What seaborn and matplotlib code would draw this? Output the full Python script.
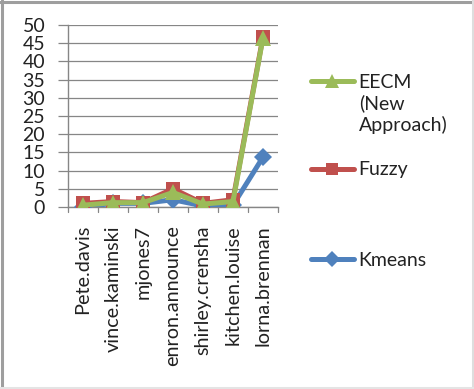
import matplotlib
matplotlib.use("Agg")
import matplotlib.pyplot as plt
import seaborn as sns
import pandas as pd
from matplotlib.lines import Line2D

categories = ["Pete.davis", "vince.kaminski", "mjones7", "enron.announce",
              "shirley.crensha", "kitchen.louise", "lorna.brennan"]
kmeans = [0.0, 1.0, 1.0, 2.0, 0.3, 0.5, 13.7]
fuzzy = [1.0, 1.5, 1.2, 5.0, 1.0, 2.0, 46.8]
eecm = [0.5, 1.2, 1.2, 4.0, 0.8, 1.5, 46.5]
y_ticks = [0, 5, 10, 15, 20, 25, 30, 35, 40, 45, 50]

sns.set_theme(style="white")
plt.rcParams["font.family"] = ["Lato", "DejaVu Sans"]

W, H = 474, 389
fig = plt.figure(figsize=(W / 100, H / 100), dpi=100)
ax = fig.add_axes([68 / W, 1 - 207 / H, 210 / W, 182 / H])

grey = "#868686"
txt = "#222222"
series = [
    ("Kmeans", kmeans, "#4F81BD", "D", 9),
    ("Fuzzy", fuzzy, "#C0504D", "s", 10),
    ("EECM", eecm, "#9BBB59", "^", 11),
]
handles = {}
for name, vals, col, mk, ms in series:
    df = pd.DataFrame({"cat": categories, "val": vals})
    sns.lineplot(data=df, x="cat", y="val", ax=ax, sort=False, color=col,
                 linewidth=3.6, marker=mk, markersize=ms, markeredgewidth=0,
                 zorder=3)
    handles[name] = Line2D([], [], color=col, linewidth=3.6, marker=mk,
                           markersize=ms * 0.9, markeredgewidth=0)

ax.set_xlim(-0.5, len(categories) - 0.5)
ax.set_ylim(0, 50)
ax.set_yticks(y_ticks)
ax.set_yticklabels([str(t) for t in y_ticks], fontsize=14, color=txt)
ax.set_xticks(range(len(categories)))
ax.set_xticklabels(categories, rotation=90, fontsize=14.3, color=txt)
ax.set_xlabel("")
ax.set_ylabel("")
ax.grid(axis="y", color=grey, linewidth=0.9)
ax.grid(axis="x", visible=False)
for s in ["top", "right"]:
    ax.spines[s].set_visible(False)
for s in ["left", "bottom"]:
    ax.spines[s].set_color(grey)
    ax.spines[s].set_linewidth(1.0)
ax.tick_params(axis="x", length=0, pad=13)
ax.tick_params(axis="y", length=7, color=grey, width=0.9, pad=9.4, left=True)
# boundary tick marks on x axis
for b in range(len(categories) + 1):
    ax.plot([b - 0.5, b - 0.5], [0, -1.4], color=grey, linewidth=0.9,
            clip_on=False, zorder=1)

# legend entries
leg_items = [("EECM", 82), ("Fuzzy", 170), ("Kmeans", 260)]
for key, ypix in leg_items:
    fig.legend(handles=[handles[key]], labels=[key],
               loc="center left", bbox_to_anchor=(311 / W, 1 - ypix / H),
               frameon=False, fontsize=14, handlelength=2.2,
               handletextpad=0.25, borderaxespad=0, borderpad=0,
               labelcolor=txt)
fig.text(359 / W, 1 - 94 / H, "(New\nApproach)", fontsize=14, va="top",
         ha="left", color=txt, linespacing=1.25)

# image frame
fig.add_artist(Line2D([0, 1], [1 - 1.5 / H] * 2, transform=fig.transFigure,
                      color="#9e9e9e", linewidth=2.2))
fig.add_artist(Line2D([1.5 / W] * 2, [0, 1], transform=fig.transFigure,
                      color="#9e9e9e", linewidth=2.2))
fig.add_artist(Line2D([1 - 1.5 / W] * 2, [0, 1], transform=fig.transFigure,
                      color="#dedede", linewidth=2.2))
fig.add_artist(Line2D([0, 1], [1.5 / H] * 2, transform=fig.transFigure,
                      color="#e4e4e4", linewidth=2.2))

fig.savefig("out.png", dpi=100)
